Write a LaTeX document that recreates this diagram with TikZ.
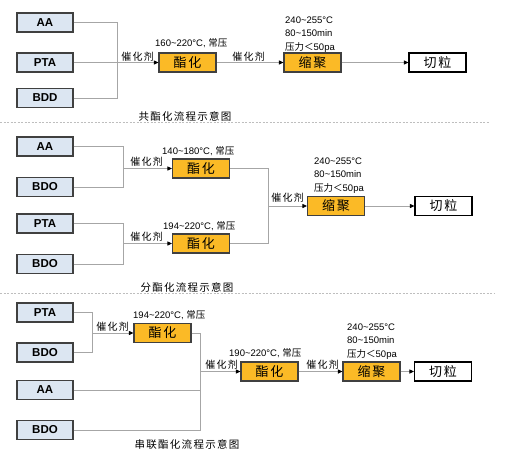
\documentclass[tikz,border=0pt]{standalone}
\usepackage{fontspec}
\setmainfont{Liberation Sans}
\newfontfamily\cjk{Noto Sans CJK SC}
\newfontfamily\cjksp[LetterSpace=12]{Noto Sans CJK SC}
\usepackage{tikz}
\usetikzlibrary{arrows.meta, positioning, calc}
\definecolor{rawfill}{RGB}{220,230,242}
\definecolor{stepfill}{RGB}{251,186,38}
\definecolor{boxline}{RGB}{64,64,64}
\definecolor{pipe}{RGB}{166,166,166}
\definecolor{sepline}{RGB}{190,190,190}

\begin{document}
\begin{tikzpicture}[
  x=1pt,y=-1pt,
  raw/.style={
    rectangle, line width=1.1pt,
    draw=boxline, fill=rawfill,
    minimum width=56pt, minimum height=19pt, inner sep=0pt,
    font=\fontsize{11.5}{13}\selectfont\bfseries
  },
  reactor/.style={
    rectangle, line width=1.1pt,
    draw=boxline, fill=stepfill,
    minimum width=57pt, minimum height=19pt, inner sep=0pt,
    font=\fontsize{13}{15}\selectfont\cjksp
  },
  cutbox/.style={
    rectangle, line width=1.1pt,
    draw=black, fill=white,
    minimum width=57pt, minimum height=19pt, inner sep=0pt,
    font=\fontsize{13}{15}\selectfont\cjksp
  },
  pipeline/.style={draw=pipe, line width=0.9pt},
  arrow/.style={pipeline, -{Triangle[length=4.5pt,width=4pt,color=black]}},
  cat/.style={anchor=base east, inner sep=0pt, font=\fontsize{10}{12}\selectfont\cjksp},
  cond/.style={anchor=base west, inner sep=0pt, align=left,
    font=\fontsize{9.5}{13.5}\selectfont},
  caption/.style={inner sep=0pt, font=\fontsize{10.5}{12}\selectfont\cjksp},
  divider/.style={draw=sepline, line width=0.8pt, dash pattern=on 2pt off 1.5pt}
]
\useasboundingbox (0,0) rectangle (527,458);

% ---- 共酯化 ----
\node[raw] (a1) at (45,22.5) {AA};
\node[raw] (p1) at (45,62.5) {PTA};
\node[raw] (b1) at (45,98)   {BDD};
\node[reactor] (e1) at (187.5,62.5) {酯化};
\node[reactor] (s1) at (312.5,62.5) {缩聚};
\node[cutbox]  (q1) at (437.5,62.5) {切粒};
\coordinate (j1) at (117,62.5);

\draw[pipeline] (a1.east) -| (j1);
\draw[pipeline] (b1.east) -| (j1);
\draw[arrow] (p1.east) -- (e1.west);
\draw[arrow] (e1.east) -- (s1.west);
\draw[arrow] (s1.east) -- (q1.west);

\node[cond] at (155,46) {160\textasciitilde220°C, {\cjk 常压}};
\node[cat] at (154,60) {催化剂};
\node[cat] at (265,60) {催化剂};
\node[cond] at (285,50) {240\textasciitilde255°C\\80\textasciitilde150min\\{\cjk 压力＜}50pa};
\node[caption] (t1) at (185,116) {共酯化流程示意图};
\draw[divider] (0,122) -- (490,122);

% ---- 分酯化 ----
\node[raw] (a2) at (45,146.5) {AA};
\node[raw] (b2) at (45,187)   {BDO};
\node[raw] (p2) at (45,223.5) {PTA};
\node[raw] (c2) at (45,264)   {BDO};
\node[reactor] (e2) at (201,168.5) {酯化};
\node[reactor] (f2) at (201,243.5) {酯化};
\node[reactor] (s2) at (336,206)   {缩聚};
\node[cutbox]  (q2) at (443.5,206) {切粒};
\coordinate (j2) at (123,168.5);
\coordinate (k2) at (123,243.5);
\coordinate (m2) at (268,206);

\draw[pipeline] (a2.east) -| (j2);
\draw[pipeline] (b2.east) -| (j2);
\draw[arrow] (j2) -- (e2.west);
\draw[pipeline] (p2.east) -| (k2);
\draw[pipeline] (c2.east) -| (k2);
\draw[arrow] (k2) -- (f2.west);
\draw[pipeline] (e2.east) -| (m2);
\draw[pipeline] (f2.east) -| (m2);
\draw[arrow] (m2) -- (s2.west);
\draw[arrow] (s2.east) -- (q2.west);

\node[cond] at (162,154) {140\textasciitilde180°C, {\cjk 常压}};
\node[cat] at (163,165) {催化剂};
\node[cond] at (163,229) {194\textasciitilde220°C, {\cjk 常压}};
\node[cat] at (163,240) {催化剂};
\node[cat] at (304,201) {催化剂};
\node[cond] at (314,191) {240\textasciitilde255°C\\80\textasciitilde150min\\{\cjk 压力＜}50pa};
\node[caption] (t2) at (187,287) {分酯化流程示意图};
\draw[divider] (0,293) -- (495,293);

% ---- 串联酯化 ----
\node[raw] (p3) at (45,312.5) {PTA};
\node[raw] (b3) at (45,352.5) {BDO};
\node[raw] (a3) at (45,390)   {AA};
\node[raw] (c3) at (45,430)   {BDO};
\node[reactor] (e3) at (162.5,333)   {酯化};
\node[reactor] (f3) at (269.5,371.5) {酯化};
\node[reactor] (s3) at (371.5,371.5) {缩聚};
\node[cutbox]  (q3) at (443,371.5)   {切粒};
\coordinate (j3) at (92,333);
\coordinate (m3) at (200,371.5);

\draw[pipeline] (p3.east) -| (j3);
\draw[pipeline] (b3.east) -| (j3);
\draw[arrow] (j3) -- (e3.west);
\draw[pipeline] (e3.east) -| (m3);
\draw[pipeline] (a3.east) -| (m3);
\draw[pipeline] (c3.east) -| (m3);
\draw[arrow] (m3) -- (f3.west);
\draw[arrow] (f3.east) -- (s3.west);
\draw[arrow] (s3.east) -- (q3.west);

\node[cond] at (133,318) {194\textasciitilde220°C, {\cjk 常压}};
\node[cat] at (129,330) {催化剂};
\node[cond] at (229,356) {190\textasciitilde220°C, {\cjk 常压}};
\node[cat] at (238,368) {催化剂};
\node[cat] at (339,368) {催化剂};
\node[cond] at (347,357) {240\textasciitilde255°C\\80\textasciitilde150min\\{\cjk 压力＜}50pa};
\node[caption] (t3) at (187,444) {串联酯化流程示意图};

\end{tikzpicture}
\end{document}
